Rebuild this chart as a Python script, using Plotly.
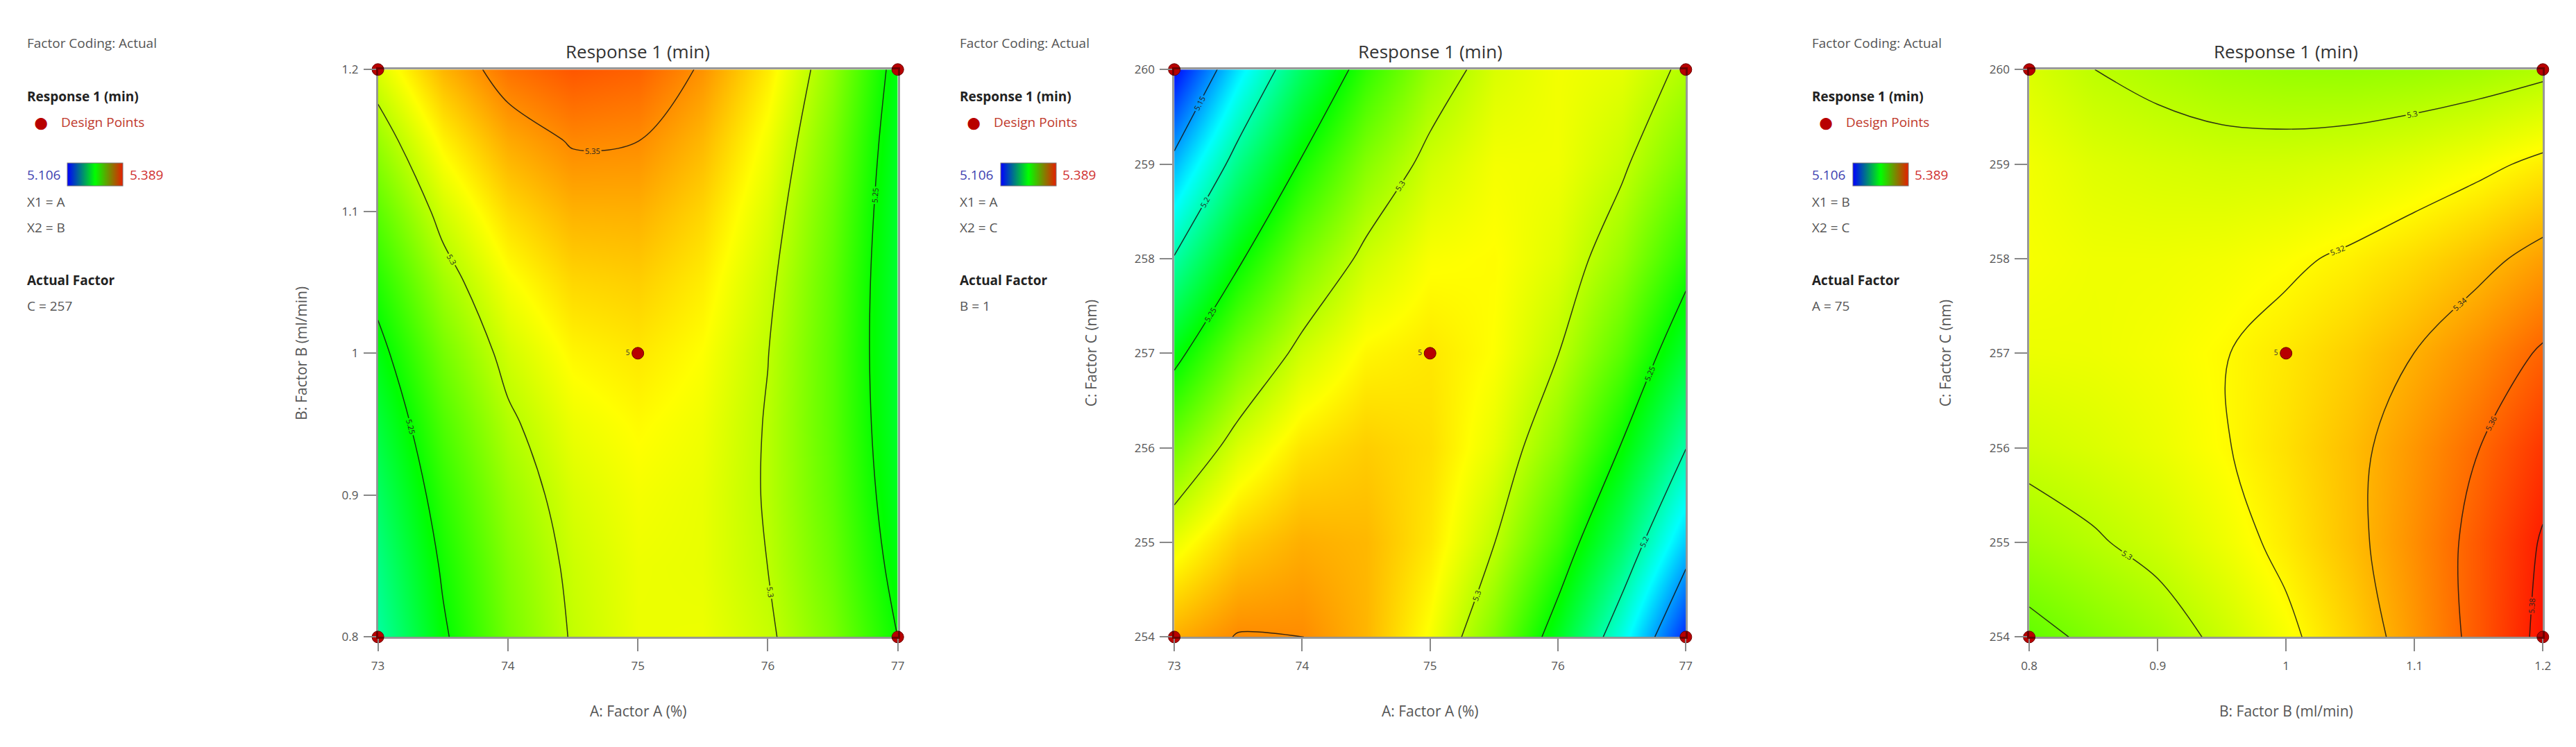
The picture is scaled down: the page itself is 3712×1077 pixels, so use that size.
import plotly.graph_objects as go

W, H = 3712, 1077

# factor levels used for the response grids
A_LEVELS = [73, 73.5, 74, 74.5, 75, 75.5, 76, 76.5, 77]
B_LEVELS = [0.8, 0.85, 0.9, 0.95, 1.0, 1.05, 1.1, 1.15, 1.2]
C_LEVELS = [254, 255, 256, 257, 258, 259, 260]

A_TICKS = [73, 74, 75, 76, 77]
B_TICKS = [0.8, 0.9, 1, 1.1, 1.2]
C_TICKS = [254, 255, 256, 257, 258, 259, 260]

# Response 1 (min) (rows follow the y factor)
RESP_AB = [  # rows B, cols A, C = 257
    [5.2032, 5.2468, 5.2797, 5.3017, 5.3129, 5.3134, 5.3030, 5.2818, 5.2499],
    [5.2108, 5.2527, 5.2837, 5.3040, 5.3134, 5.3121, 5.2999, 5.2770, 5.2432],
    [5.2201, 5.2602, 5.2894, 5.3079, 5.3156, 5.3124, 5.2985, 5.2738, 5.2382],
    [5.2309, 5.2692, 5.2967, 5.3134, 5.3193, 5.3144, 5.2987, 5.2722, 5.2348],
    [5.2434, 5.2799, 5.3056, 5.3205, 5.3246, 5.3179, 5.3004, 5.2721, 5.2330],
    [5.2575, 5.2922, 5.3161, 5.3292, 5.3316, 5.3231, 5.3038, 5.2737, 5.2328],
    [5.2731, 5.3061, 5.3282, 5.3396, 5.3401, 5.3298, 5.3088, 5.2769, 5.2343],
    [5.2903, 5.3215, 5.3418, 5.3514, 5.3502, 5.3381, 5.3153, 5.2816, 5.2372],
    [5.3092, 5.3386, 5.3572, 5.3649, 5.3619, 5.3481, 5.3235, 5.2880, 5.2418],
]
RESP_AC = [  # rows C, cols A, B = 1
    [5.3407, 5.3509, 5.3503, 5.3388, 5.3164, 5.2831, 5.2389, 5.1839, 5.1180],
    [5.3130, 5.3322, 5.3406, 5.3381, 5.3247, 5.3005, 5.2654, 5.2194, 5.1625],
    [5.2802, 5.3083, 5.3255, 5.3319, 5.3273, 5.3120, 5.2857, 5.2485, 5.2005],
    [5.2434, 5.2799, 5.3056, 5.3205, 5.3246, 5.3179, 5.3004, 5.2721, 5.2330],
    [5.2015, 5.2467, 5.2811, 5.3046, 5.3171, 5.3189, 5.3097, 5.2897, 5.2588],
    [5.1567, 5.2102, 5.2528, 5.2845, 5.3054, 5.3154, 5.3145, 5.3027, 5.2800],
    [5.1087, 5.1702, 5.2209, 5.2607, 5.2896, 5.3077, 5.3149, 5.3112, 5.2966],
]
RESP_BC = [  # rows C, cols B, A = 75
    [5.2744, 5.2835, 5.2922, 5.3035, 5.3164, 5.3309, 5.3471, 5.3647, 5.3840],
    [5.2920, 5.2983, 5.3048, 5.3136, 5.3239, 5.3359, 5.3495, 5.3647, 5.3814],
    [5.3049, 5.3082, 5.3126, 5.3188, 5.3267, 5.3361, 5.3472, 5.3598, 5.3741],
    [5.3129, 5.3134, 5.3156, 5.3193, 5.3246, 5.3315, 5.3401, 5.3502, 5.3619],
    [5.3161, 5.3138, 5.3138, 5.3150, 5.3177, 5.3221, 5.3282, 5.3358, 5.3449],
    [5.3146, 5.3094, 5.3072, 5.3058, 5.3061, 5.3079, 5.3115, 5.3165, 5.3232],
    [5.3082, 5.3001, 5.2958, 5.2919, 5.2896, 5.2889, 5.2900, 5.2925, 5.2966],
]

Z_MIN, Z_MAX = 5.106, 5.389

# contour levels drawn on each panel
LEVELS_AB = (5.25, 5.35, 0.05)
LEVELS_AC = (5.15, 5.35, 0.05)
LEVELS_BC = (5.28, 5.38, 0.02)

# design points: four corners and the centre point (5 runs)
PTS_A = [73, 73, 77, 77, 75]
PTS_B = [0.8, 1.2, 0.8, 1.2, 1.0]
PTS_C = [254, 260, 254, 260, 257]
PTS_B_BC = [0.8, 0.8, 1.2, 1.2, 1.0]
PTS_C_BC = [254, 260, 254, 260, 257]
PTS_RUNS = ["", "", "", "", "5"]

DX_SCALE = [
    [0.0, "rgb(0,0,255)"],
    [0.25, "rgb(0,255,255)"],
    [0.5, "rgb(0,255,0)"],
    [0.75, "rgb(255,255,0)"],
    [1.0, "rgb(255,0,0)"],
]
# the small key in the side panel is a plain blue-green-red blend
KEY_SCALE = [[0.0, "rgb(0,0,255)"], [0.5, "rgb(0,255,0)"], [1.0, "rgb(230,30,0)"]]

FONT = "Open Sans"

panels = [
    dict(x=A_LEVELS, y=B_LEVELS, z=RESP_AB, lv=LEVELS_AB,
         px=PTS_A, py=PTS_B, xr=[73, 77], yr=[0.8, 1.2],
         xt=A_TICKS, yt=B_TICKS,
         xtitle="A: Factor A (%)", ytitle="B: Factor B (ml/min)",
         x1="X1 = A", x2="X2 = B", fixed="C = 257",
         left=528, right=1282, text_x=17, ytitle_x=417),
    dict(x=A_LEVELS, y=C_LEVELS, z=RESP_AC, lv=LEVELS_AC,
         px=PTS_A, py=PTS_C, xr=[73, 77], yr=[254, 260],
         xt=A_TICKS, yt=C_TICKS,
         xtitle="A: Factor A (%)", ytitle="C: Factor C (nm)",
         x1="X1 = A", x2="X2 = C", fixed="B = 1",
         left=1683, right=2425, text_x=1370, ytitle_x=1562),
    dict(x=B_LEVELS, y=C_LEVELS, z=RESP_BC, lv=LEVELS_BC,
         px=PTS_B_BC, py=PTS_C_BC, xr=[0.8, 1.2], yr=[254, 260],
         xt=B_TICKS, yt=C_TICKS,
         xtitle="B: Factor B (ml/min)", ytitle="C: Factor C (nm)",
         x1="X1 = B", x2="X2 = C", fixed="A = 75",
         left=2923, right=3668, text_x=2606, ytitle_x=2801),
]

TOP, BOTTOM = 82, 918


def fx(px):
    return px / W


def fy(py):
    return 1 - py / H


fig = go.Figure()
annotations = []
layout_axes = {}

for i, p in enumerate(panels):
    n = "" if i == 0 else str(i + 1)
    xa, ya = "x" + n, "y" + n

    fig.add_trace(go.Heatmap(
        x=p["x"], y=p["y"], z=p["z"], zmin=Z_MIN, zmax=Z_MAX,
        colorscale=DX_SCALE, zsmooth="best", hoverinfo="skip",
        xaxis=xa, yaxis=ya, showscale=False,
    ))
    start, end, size = p["lv"]
    fig.add_trace(go.Contour(
        x=p["x"], y=p["y"], z=p["z"], showscale=False, hoverinfo="skip",
        xaxis=xa, yaxis=ya,
        contours=dict(coloring="none", start=start, end=end, size=size,
                      showlabels=True,
                      labelfont=dict(size=11, color="#222", family=FONT)),
        line=dict(color="rgba(20,20,20,0.85)", width=1.5, smoothing=1.0),
    ))
    fig.add_trace(go.Scatter(
        x=p["px"], y=p["py"], mode="markers+text", text=PTS_RUNS,
        textposition="middle left", cliponaxis=False,
        textfont=dict(size=10, color="#333", family=FONT),
        marker=dict(size=17, color="#b80000", line=dict(color="#6a0000", width=1)),
        xaxis=xa, yaxis=ya, showlegend=False, hoverinfo="skip",
    ))
    # colour key for the side panel (no visible points)
    fig.add_trace(go.Scatter(
        x=[None], y=[None], mode="markers", xaxis=xa, yaxis=ya,
        showlegend=False, hoverinfo="skip",
        marker=dict(color=[Z_MIN], cmin=Z_MIN, cmax=Z_MAX,
                    colorscale=KEY_SCALE, showscale=True,
                    colorbar=dict(
                        orientation="h", x=fx(p["text_x"] + 61), xanchor="left",
                        y=fy(220), yanchor="top", lenmode="pixels", len=80,
                        thickness=33, xpad=0, ypad=0, outlinewidth=1,
                        outlinecolor="#777", showticklabels=False, ticks="")),
    ))

    axis_common = dict(showgrid=False, zeroline=False, ticks="outside",
                       ticklen=18, tickcolor="#888", tickwidth=1.5,
                       showline=True, mirror=True, linewidth=2.5,
                       linecolor="rgba(0,0,0,0.4)",
                       tickfont=dict(size=17, color="#555", family=FONT))
    layout_axes["xaxis" + n] = dict(
        axis_common, domain=[fx(p["left"]), fx(p["right"])], range=p["xr"],
        tickvals=p["xt"], anchor=ya, ticklabelstandoff=6)
    layout_axes["yaxis" + n] = dict(
        axis_common, domain=[fy(BOTTOM), fy(TOP)], range=p["yr"],
        tickvals=p["yt"], anchor=xa, ticklabelstandoff=4)

    cx = fx((p["left"] + p["right"]) / 2)
    annotations += [
        dict(x=cx, y=fy(55), text="Response 1 (min)",
             font=dict(size=26, color="#333")),
        dict(x=cx, y=fy(1027), text=p["xtitle"],
             font=dict(size=21, color="#555")),
        dict(x=fx(p["ytitle_x"]), y=fy((TOP + BOTTOM) / 2), text=p["ytitle"],
             textangle=-90, font=dict(size=21, color="#555")),
    ]

    tx = p["text_x"]
    left_text = [
        (0, 43, "Factor Coding: Actual", "#555", False),
        (0, 122, "Response 1 (min)", "#222", True),
        (49, 159, "Design Points", "#c0392b", False),
        (0, 237, "5.106", "#4040b0", False),
        (149, 237, "5.389", "#d03030", False),
        (0, 277, p["x1"], "#555", False),
        (0, 315, p["x2"], "#555", False),
        (0, 392, "Actual Factor", "#222", True),
        (0, 430, p["fixed"], "#555", False),
    ]
    for dx, yy, txt, col, bold in left_text:
        annotations.append(dict(
            x=fx(tx + dx), y=fy(yy), xanchor="left",
            text="<b>%s</b>" % txt if bold else txt,
            font=dict(size=19, color=col)))
    annotations.append(dict(x=fx(tx + 22), y=fy(158), text="●",
                            font=dict(size=40, color="#b80000")))

for a in annotations:
    a.setdefault("xref", "paper")
    a.setdefault("yref", "paper")
    a.setdefault("showarrow", False)
    a.setdefault("xanchor", "center")
    a.setdefault("yanchor", "middle")
    a["font"].setdefault("family", FONT)

fig.update_layout(
    width=W, height=H, margin=dict(l=0, r=0, t=0, b=0),
    paper_bgcolor="white", plot_bgcolor="white",
    showlegend=False, font=dict(family=FONT),
    annotations=annotations, **layout_axes,
)

fig.write_html("out.html")
